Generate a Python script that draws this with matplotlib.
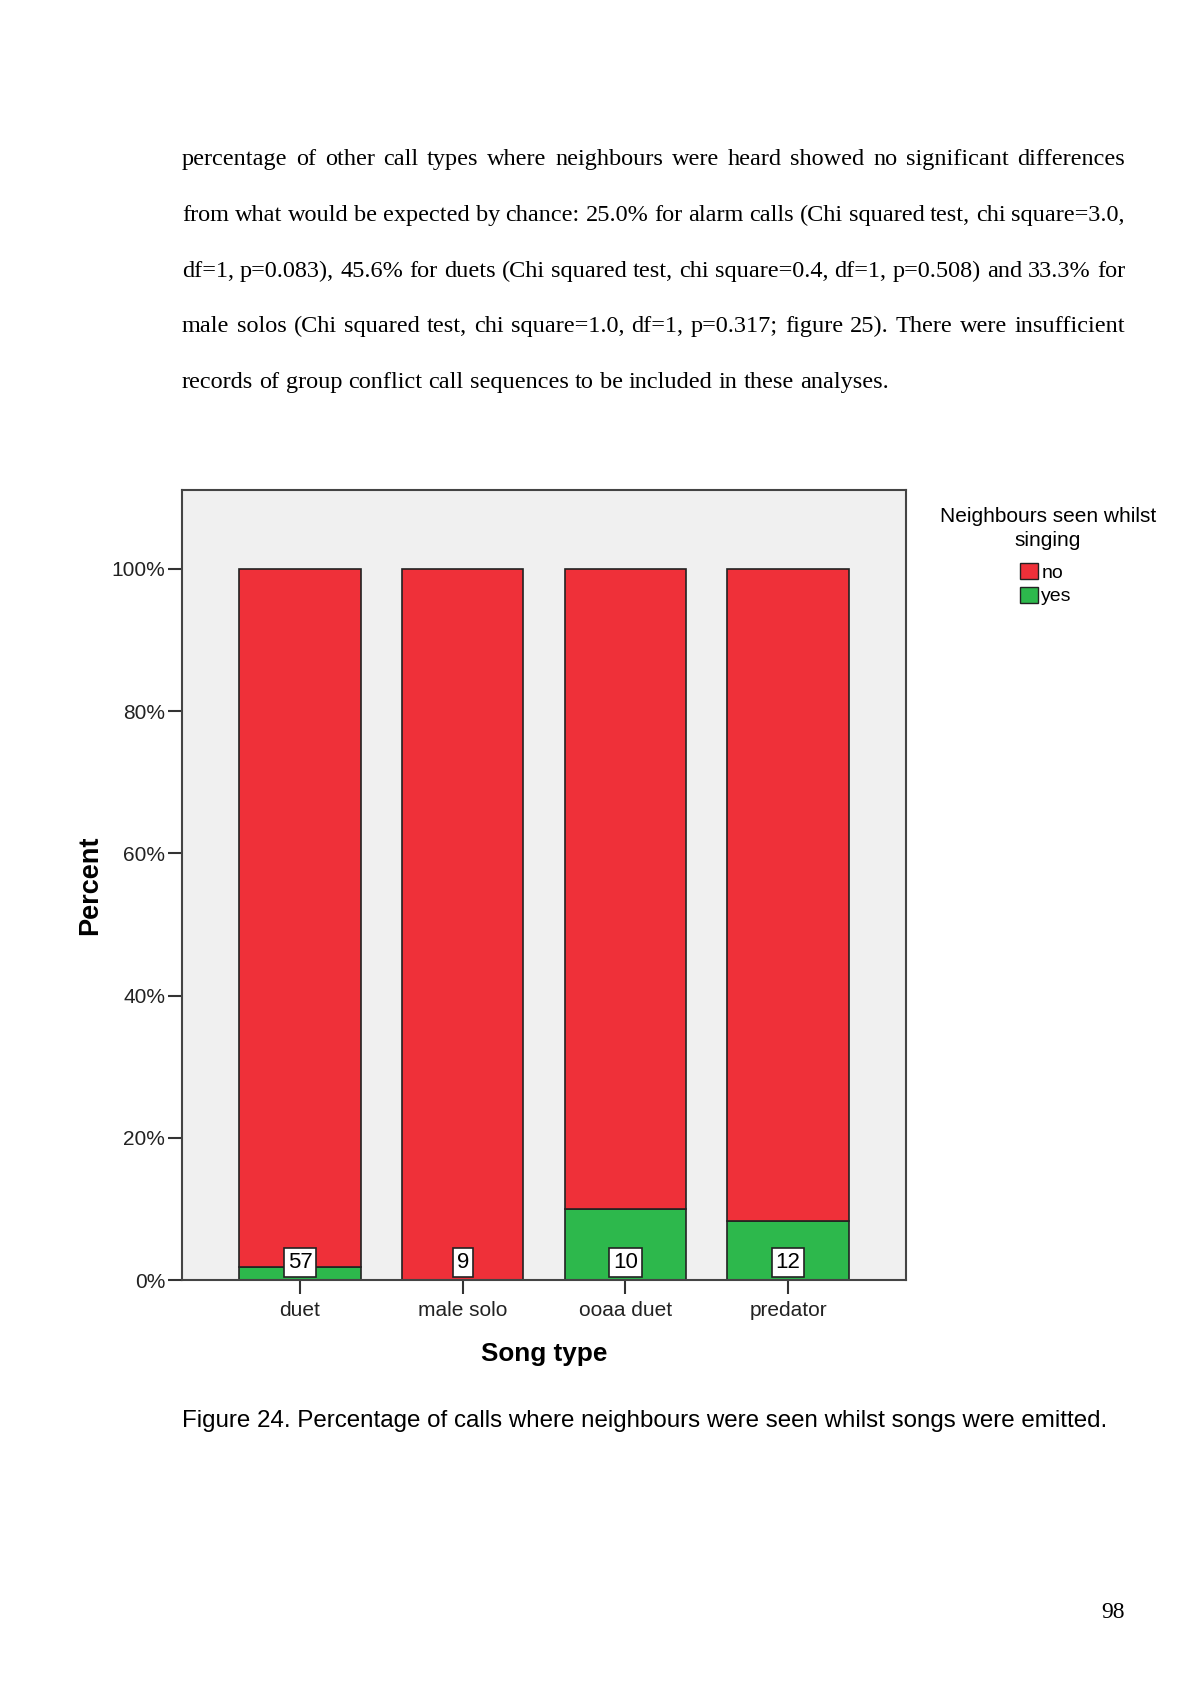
import matplotlib
matplotlib.use("Agg")
import matplotlib.pyplot as plt
from matplotlib.patches import Patch
import numpy as np

# chart data
song_types = ["duet", "male solo", "ooaa duet", "predator"]
n_calls = [57, 9, 10, 12]
pct_yes = [1.8, 0.0, 10.0, 8.3]
pct_no = [100 - v for v in pct_yes]
yticks = [0, 20, 40, 60, 80, 100]

body_lines = [
    "percentage of other call types where neighbours were heard showed no significant differences",
    "from what would be expected by chance: 25.0% for alarm calls (Chi squared test, chi square=3.0,",
    "df=1, p=0.083), 45.6% for duets (Chi squared test, chi square=0.4, df=1, p=0.508) and 33.3% for",
    "male solos (Chi squared test, chi square=1.0, df=1, p=0.317; figure 25).  There were insufficient",
    "records of group conflict call sequences to be included in these analyses.",
]
caption = "Figure 24. Percentage of calls where neighbours were seen whilst songs were emitted."

RED = "#ef3039"
GREEN = "#2db84c"
W, H = 1200, 1698

fig = plt.figure(figsize=(12, 16.98), dpi=100)
fig.patch.set_facecolor("white")

def px(x, y):
    return x / W, 1 - y / H

# body paragraph, justified by hand
renderer = fig.canvas.get_renderer()
left, right = 182, 1125
line_y = [165, 221, 277, 332, 388]  # baselines
serif = "Liberation Serif"
fs = 17.5
for i, line in enumerate(body_lines):
    words = line.split()
    widths = []
    for w in words:
        t = fig.text(0, 0, w, fontsize=fs, family=serif)
        widths.append(t.get_window_extent(renderer).width)
        t.remove()
    if i < len(body_lines) - 1:
        gap = (right - left - sum(widths)) / (len(words) - 1)
    else:
        sp = fig.text(0, 0, "a a", fontsize=fs, family=serif)
        sa = fig.text(0, 0, "aa", fontsize=fs, family=serif)
        gap = sp.get_window_extent(renderer).width - sa.get_window_extent(renderer).width
        sp.remove(); sa.remove()
    x = left
    for w, wd in zip(words, widths):
        fig.text(*px(x, line_y[i]), w, fontsize=fs, family=serif, va="baseline", ha="left")
        x += wd + gap

# chart
ax = fig.add_axes([182 / W, 1 - 1280 / H, (906 - 182) / W, (1280 - 490) / H])
ax.set_facecolor("#f0f0f0")
xpos = np.arange(len(song_types))
ax.bar(xpos, pct_yes, width=0.745, color=GREEN, edgecolor="#222222", linewidth=1.2)
ax.bar(xpos, pct_no, width=0.745, bottom=pct_yes, color=RED, edgecolor="#222222", linewidth=1.2)
for x, n in zip(xpos, n_calls):
    ax.text(x, 2.4, str(n), ha="center", va="center", fontsize=16, family="Liberation Sans",
            bbox=dict(boxstyle="square,pad=0.18", facecolor="white", edgecolor="#222222", linewidth=1.2))

ax.set_xlim(-0.725, 3.725)
ax.set_ylim(0, 111.1)
ax.set_yticks(yticks)
ax.set_yticklabels([f"{v}%" for v in yticks], fontsize=15, family="Liberation Sans", color="#222222")
ax.set_xticks(xpos)
ax.set_xticklabels(song_types, fontsize=15, family="Liberation Sans", color="#222222")
ax.tick_params(axis="both", length=10, width=1.5, color="#333333", direction="out")
ax.tick_params(axis="y", pad=2)
ax.tick_params(axis="x", pad=5)
for s in ax.spines.values():
    s.set_linewidth(1.5)
    s.set_color("#444444")
ax.set_xlabel("Song type", fontsize=18.8, fontweight="bold", family="Liberation Sans", labelpad=16)
ax.set_ylabel("Percent", fontsize=19.5, fontweight="bold", family="Liberation Sans", labelpad=6)

# legend
fig.text(*px(1048, 517), "Neighbours seen whilst", fontsize=15, family="Liberation Sans",
         ha="center", va="center")
fig.text(*px(1048, 541), "singing", fontsize=15, family="Liberation Sans", ha="center", va="center")
handles = [Patch(facecolor=RED, edgecolor="#222222", label="no"),
           Patch(facecolor=GREEN, edgecolor="#222222", label="yes")]
fig.legend(handles=handles, loc="upper left", bbox_to_anchor=px(1020, 563), frameon=False,
           handlelength=0.9, handleheight=0.9, handletextpad=0.2, labelspacing=0.25,
           borderpad=0, borderaxespad=0, prop={"family": "Liberation Sans", "size": 14})

fig.text(*px(182, 1421), caption, fontsize=17.4, family="Liberation Sans", va="center", ha="left")
fig.text(*px(1125, 1612), "98", fontsize=17, family=serif, va="center", ha="right")

fig.savefig("out.png", dpi=100)
